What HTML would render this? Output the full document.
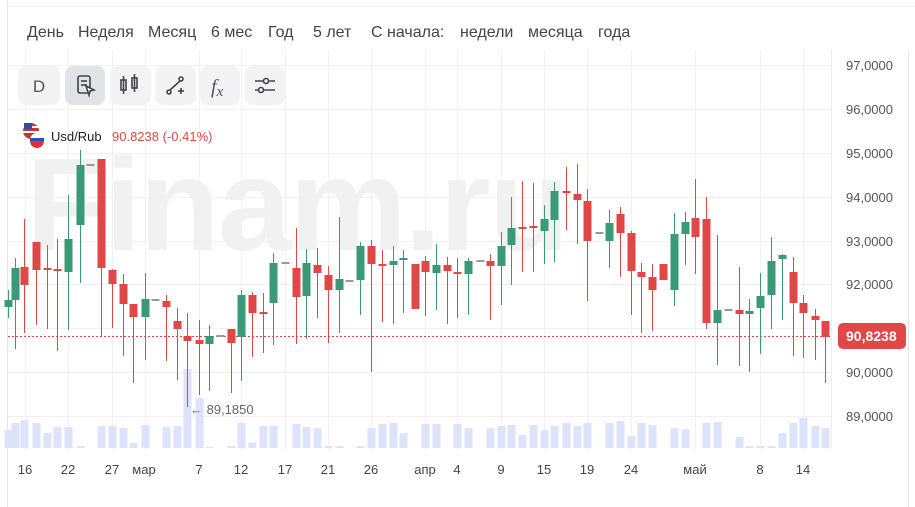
<!DOCTYPE html>
<html><head><meta charset="utf-8"><style>
html,body{margin:0;padding:0;background:#fff;width:915px;height:507px;overflow:hidden;font-family:"Liberation Sans",sans-serif}
</style></head><body>
<svg id="s" width="915" height="507" xmlns="http://www.w3.org/2000/svg" font-family="Liberation Sans, sans-serif">
<rect width="915" height="507" fill="#fff"/>
<line x1="7.5" y1="0" x2="7.5" y2="507" stroke="#e6e6e6"/>
<line x1="908.5" y1="50" x2="908.5" y2="507" stroke="#e6e6e6"/>
<line x1="7" y1="6.5" x2="915" y2="6.5" stroke="#eeeeee"/>
<g id="grid" stroke="#f1f1f1" stroke-width="1"></g>
<text x="26" y="250" font-size="132" font-weight="bold" fill="#f1f1f1" style="letter-spacing:-2px">Finam.ru</text>
<g id="vol" fill="#dde3fb"></g>
<line x1="8" y1="336.5" x2="831" y2="336.5" stroke="#e04848" stroke-width="1" stroke-dasharray="2,2"/>
<g id="c"></g>
<line x1="831.5" y1="50" x2="831.5" y2="450" stroke="#eeeeee"/>
<g font-size="13" fill="#555">
<text x="846" y="70">97,0000</text><text x="846" y="114">96,0000</text><text x="846" y="158">95,0000</text>
<text x="846" y="202">94,0000</text><text x="846" y="246">93,0000</text><text x="846" y="289">92,0000</text>
<text x="846" y="377">90,0000</text><text x="846" y="421">89,0000</text>
</g>
<rect x="838" y="323" width="68" height="26" rx="5" fill="#e04848"/>
<text x="846" y="341" font-size="14" font-weight="bold" fill="#fff">90,8238</text>
<g font-size="13" fill="#444" text-anchor="middle">
<text x="25" y="474">16</text><text x="68" y="474">22</text><text x="112" y="474">27</text><text x="144" y="474">мар</text>
<text x="199" y="474">7</text><text x="241" y="474">12</text><text x="285" y="474">17</text><text x="328" y="474">21</text>
<text x="371" y="474">26</text><text x="425" y="474">апр</text><text x="457" y="474">4</text><text x="501" y="474">9</text>
<text x="544" y="474">15</text><text x="587" y="474">19</text><text x="631" y="474">24</text><text x="695" y="474">май</text>
<text x="760" y="474">8</text><text x="803" y="474">14</text>
</g>
<text x="190" y="414" font-size="13" fill="#666">← 89,1850</text>
<g font-size="16" fill="#444">
<text x="27" y="37">День</text><text x="78" y="37">Неделя</text><text x="148" y="37">Месяц</text><text x="211" y="37">6 мес</text>
<text x="268" y="37">Год</text><text x="313" y="37">5 лет</text><text x="371" y="37">С начала:</text><text x="460" y="37">недели</text>
<text x="528" y="37">месяца</text><text x="598" y="37">года</text>
</g>
<rect x="18" y="66" width="42" height="39" rx="8" fill="#f3f3f5"/>
<rect x="65" y="66" width="40" height="39" rx="8" fill="#e2e3e7"/>
<rect x="110" y="66" width="41" height="39" rx="8" fill="#f3f3f5"/>
<rect x="155" y="66" width="41" height="39" rx="8" fill="#f3f3f5"/>
<rect x="200" y="66" width="40" height="39" rx="8" fill="#f3f3f5"/>
<rect x="245" y="66" width="40" height="39" rx="8" fill="#f3f3f5"/>
<text x="39" y="92" font-size="17" fill="#555" text-anchor="middle">D</text>
<g stroke="#444" stroke-width="1.6" fill="none">
<rect x="78" y="76" width="12" height="17" rx="2"/><line x1="81" y1="81" x2="87" y2="81"/><line x1="81" y1="85" x2="87" y2="85"/>
<path d="M86 86 L94 90 L90 91 L89 95 Z" fill="#fff"/>
<rect x="121" y="80" width="5" height="10"/><rect x="132" y="78" width="5" height="10"/><line x1="123.5" y1="76" x2="123.5" y2="94"/><line x1="134.5" y1="74" x2="134.5" y2="92"/>
<circle cx="169" cy="92" r="2"/><circle cx="181" cy="79" r="2"/><line x1="170" y1="90" x2="180" y2="81"/><line x1="178" y1="91" x2="184" y2="91"/><line x1="181" y1="88" x2="181" y2="94"/>
<line x1="255" y1="81" x2="275" y2="81"/><line x1="255" y1="90" x2="275" y2="90"/><circle cx="266" cy="81" r="2.5" fill="#f3f3f5"/><circle cx="261" cy="90" r="2.5" fill="#f3f3f5"/>
</g>
<text x="211" y="93" font-size="20" font-style="italic" font-family="Liberation Serif, serif" fill="#555">f<tspan font-size="15" dy="3">x</tspan></text>
<circle cx="31" cy="131" r="8" fill="#c33"/><rect x="23" y="126" width="16" height="2" fill="#fff"/><rect x="23" y="131" width="16" height="2" fill="#fff"/><rect x="24" y="123" width="8" height="6" fill="#3a4a9a"/>
<circle cx="37" cy="140" r="7" fill="#fff"/><path d="M30 141 h14 a7 7 0 0 1 -14 0z" fill="#d33"/><rect x="30" y="138" width="14" height="3" fill="#2a4fbf"/>
<text x="51" y="141" font-size="13" fill="#222">Usd/Rub</text>
<text x="112" y="141" font-size="13" fill="#e04848">90.8238 (-0.41%)</text>
</svg>
<script>
var NS="http://www.w3.org/2000/svg";
function el(p,t,a){var e=document.createElementNS(NS,t);for(var k in a)e.setAttribute(k,a[k]);p.appendChild(e);}
var g=document.getElementById('grid');
[65,109,153,197,241,284,328,372,416].forEach(function(y){el(g,'line',{x1:8,x2:831,y1:y+.5,y2:y+.5});});
[25,68,112,145,199,241,285,328,371,425,457,501,544,587,631,695,760,803].forEach(function(x){el(g,'line',{x1:x+.5,x2:x+.5,y1:50,y2:450});});
var G="#3a9a78",R="#e04848",D="#999";
var C=[
[8,G,300,307,290,318],[15,G,268,300,258,349],[24,R,267,285,219,333],[36,R,242,270,242,325],[47,R,268,270,245,329],[57,R,269,271,239,351],
[68,G,239,272,195,330],[80,G,165,225,150,283],[90,D,164,166,164,166],[101,R,159,268,159,336],[112,R,270,284,269,328],[123,R,284,304,274,356],
[133,R,304,317,304,383],[145,G,299,317,273,360],[155,D,299,301,299,301],[166,R,301,307,295,361],[177,R,321,329,308,380],[187,R,336,341,313,407],
[199,R,340,344,320,395],[209,G,336,344,325,391],[220,D,335,337,335,337],[231,R,329,343,329,393],[241,G,295,337,290,381],[252,R,295,313,292,357],
[263,R,312,314,293,353],[273,G,263,303,253,345],[285,D,262,264,262,264],[296,R,268,297,228,344],[306,G,263,296,249,339],[317,R,265,273,248,318],
[328,R,275,290,266,343],[339,G,279,290,217,333],[349,D,280,282,280,282],[360,G,246,280,242,315],[371,R,246,264,240,372],[382,R,264,266,250,322],
[393,G,261,265,246,324],[403,G,258,260,250,313],[415,R,264,309,264,309],[425,R,261,272,256,316],[436,G,265,273,244,310],[447,R,265,271,257,324],
[457,R,272,274,258,318],[468,G,261,274,258,315],[480,D,260,262,260,262],[490,R,261,266,254,320],[501,G,246,266,232,305],[511,G,228,245,197,285],
[522,R,227,229,181,272],[533,R,226,228,183,272],[544,G,219,231,205,264],[554,G,191,220,182,262],[566,R,191,193,167,230],[577,R,194,200,164,244],
[587,R,201,241,189,301],[599,D,232,234,232,234],[609,G,223,241,210,268],[620,R,214,233,207,277],[631,R,233,271,231,315],[641,R,272,277,263,333],
[652,R,277,290,264,331],[663,R,264,280,264,280],[674,G,234,290,213,306],[685,G,222,234,212,265],[695,R,218,237,179,274],[706,R,219,323,197,329],
[717,G,310,323,235,365],[728,D,309,311,309,311],[739,R,310,314,267,366],[749,G,311,314,299,372],[760,G,296,308,273,354],[771,G,261,295,237,329],
[782,G,255,259,254,320],[793,R,272,303,257,356],[803,R,303,313,295,358],[815,R,316,320,309,360],[825,R,321,337,321,383]];
var c=document.getElementById('c');
C.forEach(function(d){var x=d[0];el(c,'line',{x1:x+.5,x2:x+.5,y1:d[4],y2:d[5],stroke:d[1],'stroke-width':1});
var h=Math.max(2,d[3]-d[2]);el(c,'rect',{x:x-3.5,y:d[2],width:8,height:h,fill:d[1]});});
var V=[[8,430],[15,423],[24,420],[36,423],[47,433],[57,427],[68,427],[80,446],[101,426],[112,426],[123,428],[133,443],[145,425],[166,427],[177,426],[187,369],[199,398],[209,447],[231,446],[241,423],[252,443],[263,426],[273,426],[296,424],[306,427],[317,428],[328,446],[339,446],[360,446],[371,428],[382,424],[393,423],[403,433],
[425,424],[436,424],[457,424],[468,428],[490,428],[501,426],[511,425],[522,435],[533,425],[544,430],[554,426],[566,423],[577,426],[587,423],[609,423],[620,421],[631,436],[641,423],[652,425],[674,428],[685,429],[706,423],[717,422],[739,437],[749,446],[760,446],[771,446],[782,433],[793,423],[803,418],[815,426],[825,428]];
var v=document.getElementById('vol');
V.forEach(function(d){el(v,'rect',{x:d[0]-3.5,y:d[1],width:8,height:448-d[1]});});
</script>
</body></html>
